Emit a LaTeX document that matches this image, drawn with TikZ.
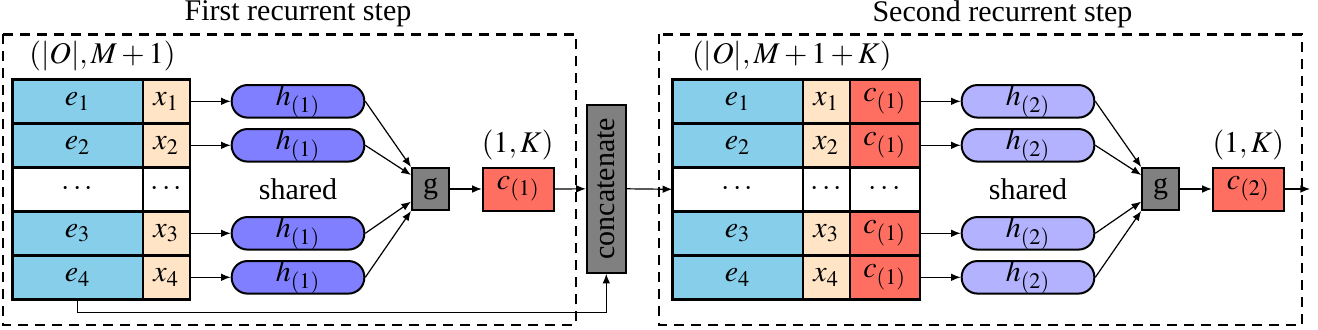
\documentclass[tikz,border=0pt]{standalone}
\usepackage{mathptmx}
\usepackage{fontspec}
\setmainfont{Liberation Serif}
\usetikzlibrary{arrows.meta}

\definecolor{ecol}{RGB}{135,206,235}
\definecolor{xcol}{RGB}{255,228,198}
\definecolor{ccol}{RGB}{255,111,97}
\definecolor{hone}{RGB}{127,127,255}
\definecolor{htwo}{RGB}{178,178,255}
\definecolor{gcol}{RGB}{128,128,128}

\begin{document}
\begin{tikzpicture}[
  x=0.5pt, y=-0.5pt,
  >=Latex,
  every node/.style={font=\fontsize{15}{17}\selectfont},
  cell/.style={rectangle, draw=black, line width=1.2pt, inner sep=0pt, outer sep=0pt,
               minimum height=22pt},
  ecell/.style={cell, fill=ecol, minimum width=65.2pt},
  xcell/.style={cell, fill=xcol, minimum width=23.5pt},
  ccell/.style={cell, fill=ccol, minimum width=35pt},
  dotcell/.style={cell, fill=white},
  hbox/.style={rectangle, rounded corners=7.9pt, draw=black, line width=1pt,
               minimum width=66.3pt, minimum height=15.9pt, inner sep=0pt},
  hfirst/.style={hbox, fill=hone},
  hsecond/.style={hbox, fill=htwo},
  gbox/.style={rectangle, draw=black, line width=1pt, fill=gcol,
               minimum width=18.5pt, minimum height=21pt, inner sep=0pt},
  cbox/.style={rectangle, draw=black, line width=1pt, fill=ccol,
               minimum width=35.5pt, minimum height=21.5pt, inner sep=0pt},
  catbox/.style={rectangle, draw=black, line width=1pt, fill=gcol,
                 minimum width=19.5pt, minimum height=84pt, inner sep=0pt},
  frame/.style={dashed, line width=1.2pt, dash pattern=on 5pt off 3.5pt},
  flow/.style={-{Latex[length=4.8pt, width=3.8pt]}, line width=0.6pt},
]
\useasboundingbox (0,0) rectangle (1318,329);

% --------------------------------------------------------------- frames --
\draw[frame] (3,34.3) rectangle (575.7,325);
\draw[frame] (658.7,34.3) rectangle (1301.7,325);
\node (title1) at (298,14) {First recurrent step};
\node (title2) at (1002.5,14) {Second recurrent step};

% ------------------------------------------------------ first step table --
\node[anchor=west, inner sep=0pt] (shape1) at (29,56) {$(|O|,M+1)$};
\node[ecell] (e1) at (77.5,101.3) {$e_1$};
\node[ecell] (e2) at (77.5,145.3) {$e_2$};
\node[dotcell, minimum width=65.2pt] (ed) at (77.5,189.3) {$\cdots$};
\node[ecell] (e3) at (77.5,233.3) {$e_3$};
\node[ecell] (e4) at (77.5,277.3) {$e_4$};
\node[xcell, anchor=west] (x1) at (e1.east) {$x_1$};
\node[xcell, anchor=west] (x2) at (e2.east) {$x_2$};
\node[dotcell, minimum width=23.5pt, anchor=west] (xd) at (ed.east) {$\cdots$};
\node[xcell, anchor=west] (x3) at (e3.east) {$x_3$};
\node[xcell, anchor=west] (x4) at (e4.east) {$x_4$};

% ------------------------------------------------------ first step cells --
\node[hfirst] (ha1) at (298,101.3) {$h_{(1)}$};
\node[hfirst] (ha2) at (298,145.3) {$h_{(1)}$};
\node (shareda) at (298,189.3) {shared};
\node[hfirst] (ha3) at (298,233.3) {$h_{(1)}$};
\node[hfirst] (ha4) at (298,277.3) {$h_{(1)}$};
\node[gbox] (ga) at (430.5,189) {g};
\node (ka) at (517.7,145) {$(1,K)$};
\node[cbox] (ca) at (518.3,189) {$c_{(1)}$};

% ---------------------------------------------------------- concatenate --
\node[catbox] (cat) at (606.3,188.8) {\rotatebox{90}{concatenate}};
\coordinate (low) at (606.3,312.3);

% ----------------------------------------------------- second step table --
\node[anchor=west, inner sep=0pt] (shape2) at (691.7,56) {$(|O|,M+1+K)$};
\node[ecell] (f1) at (737.5,101.3) {$e_1$};
\node[ecell] (f2) at (737.5,145.3) {$e_2$};
\node[dotcell, minimum width=65.2pt] (fd) at (737.5,189.3) {$\cdots$};
\node[ecell] (f3) at (737.5,233.3) {$e_3$};
\node[ecell] (f4) at (737.5,277.3) {$e_4$};
\node[xcell, anchor=west] (y1) at (f1.east) {$x_1$};
\node[xcell, anchor=west] (y2) at (f2.east) {$x_2$};
\node[dotcell, minimum width=23.5pt, anchor=west] (yd) at (fd.east) {$\cdots$};
\node[xcell, anchor=west] (y3) at (f3.east) {$x_3$};
\node[xcell, anchor=west] (y4) at (f4.east) {$x_4$};
\node[ccell, anchor=west] (z1) at (y1.east) {$c_{(1)}$};
\node[ccell, anchor=west] (z2) at (y2.east) {$c_{(1)}$};
\node[dotcell, minimum width=35pt, anchor=west] (zd) at (yd.east) {$\cdots$};
\node[ccell, anchor=west] (z3) at (y3.east) {$c_{(1)}$};
\node[ccell, anchor=west] (z4) at (y4.east) {$c_{(1)}$};

% ----------------------------------------------------- second step cells --
\node[hsecond] (hb1) at (1028,101.3) {$h_{(2)}$};
\node[hsecond] (hb2) at (1028,145.3) {$h_{(2)}$};
\node (sharedb) at (1028,189.3) {shared};
\node[hsecond] (hb3) at (1028,233.3) {$h_{(2)}$};
\node[hsecond] (hb4) at (1028,277.3) {$h_{(2)}$};
\node[gbox] (gb) at (1160.7,189) {g};
\node (kb) at (1248.3,145) {$(1,K)$};
\node[cbox] (cb) at (1248.3,189) {$c_{(2)}$};
\coordinate (out) at (1310,189);

% ----------------------------------------------------------- first flow --
\draw[flow] (x1.east) -- (ha1.west);
\draw[flow] (x2.east) -- (ha2.west);
\draw[flow] (x3.east) -- (ha3.west);
\draw[flow] (x4.east) -- (ha4.west);
\draw[flow] (ha1.east) -- (ga.north west);
\draw[flow] (ha2.east) -- ([yshift=7pt]ga.west);
\draw[flow] (ha3.east) -- ([yshift=-6.3pt]ga.west);
\draw[flow] (ha4.east) -- (ga.south west);
\draw[flow] (ga.east) -- (ca.west);
\draw[flow] (ca.east) -- (cat.west);
\draw[flow] (e4.south) |- (low) -- (cat.south);
\draw[flow] (cat.east) -- (fd.west);

% ---------------------------------------------------------- second flow --
\draw[flow] (z1.east) -- (hb1.west);
\draw[flow] (z2.east) -- (hb2.west);
\draw[flow] (z3.east) -- (hb3.west);
\draw[flow] (z4.east) -- (hb4.west);
\draw[flow] (hb1.east) -- (gb.north west);
\draw[flow] (hb2.east) -- ([yshift=7pt]gb.west);
\draw[flow] (hb3.east) -- ([yshift=-6.3pt]gb.west);
\draw[flow] (hb4.east) -- (gb.south west);
\draw[flow] (gb.east) -- (cb.west);
\draw[flow] (cb.east) -- (out);

\end{tikzpicture}
\end{document}
